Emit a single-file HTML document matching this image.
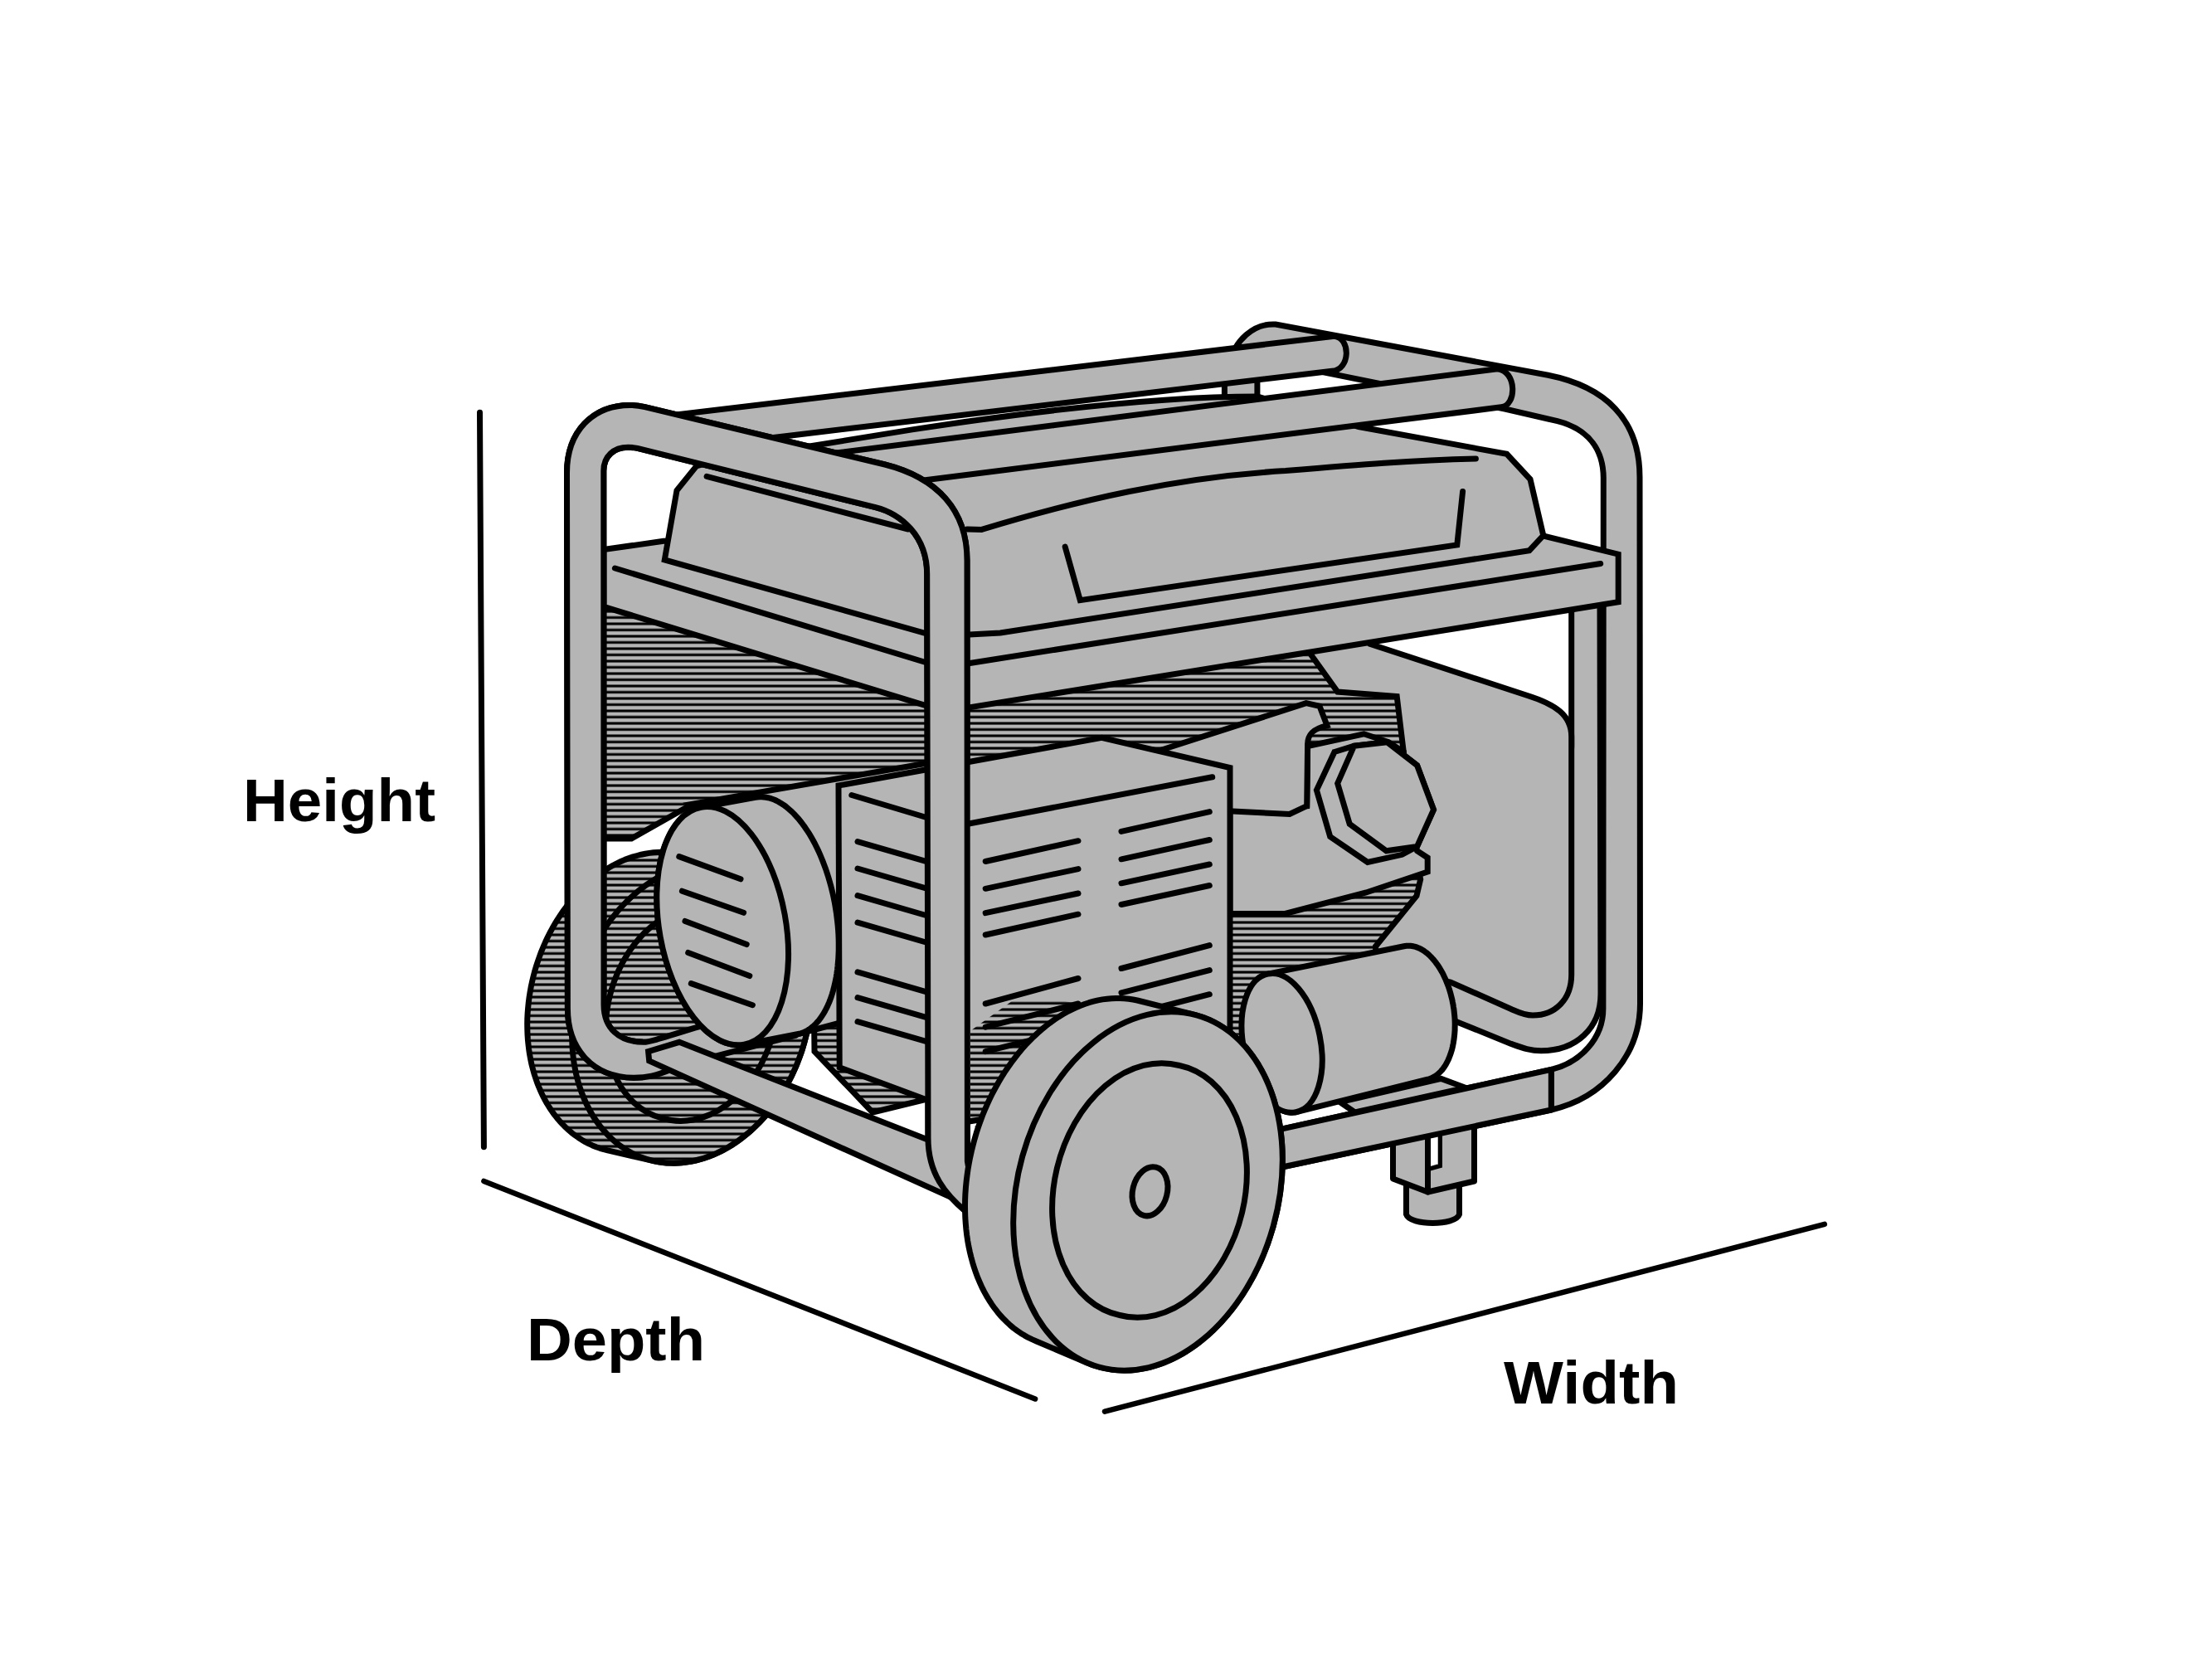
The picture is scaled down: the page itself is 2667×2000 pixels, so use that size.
<!DOCTYPE html>
<html lang="en">
<head>
<meta charset="utf-8">
<title>Generator dimensions</title>
<style>
html,body{margin:0;padding:0;background:#fff;}
body{width:2667px;height:2000px;overflow:hidden;font-family:"Liberation Sans",sans-serif;}
svg{display:block;}
</style>
</head>
<body>
<svg width="2667" height="2000" viewBox="0 0 2667 2000">
<defs>
<pattern id="hatch" x="0" y="0" width="40" height="7.5" patternUnits="userSpaceOnUse">
<rect x="0" y="0" width="40" height="7.5" fill="#b5b5b5"/>
<rect x="0" y="0.45" width="40" height="3.1" fill="#000"/>
</pattern>
<pattern id="hatchlines" x="0" y="0" width="40" height="7.5" patternUnits="userSpaceOnUse">
<rect x="0" y="0.45" width="40" height="3.1" fill="#000"/>
</pattern>
<clipPath id="hoopclip"><rect x="0" y="0" width="2667" height="1200"/><rect x="0" y="1200" width="775" height="800"/><rect x="1000" y="1200" width="1667" height="800"/></clipPath>
</defs>
<rect width="2667" height="2000" fill="#fff"/>
<polygon points="635.7,1234.5 635.8,1228.2 636.1,1221.9 636.6,1215.6 637.2,1209.3 638,1202.9 639,1196.6 640.1,1190.3 641.4,1184.1 642.9,1177.8 644.5,1171.6 646.3,1165.4 648.3,1159.3 650.4,1153.3 652.6,1147.3 655.1,1141.4 657.6,1135.5 660.3,1129.8 663.2,1124.2 666.2,1118.6 669.3,1113.2 672.6,1107.9 676,1102.7 679.5,1097.6 683.1,1092.7 686.9,1087.9 690.7,1083.2 694.7,1078.7 698.8,1074.4 702.9,1070.2 707.2,1066.2 711.5,1062.4 715.9,1058.8 720.4,1055.3 725,1052 729.6,1048.9 734.3,1046 739,1043.3 743.8,1040.8 748.6,1038.5 753.4,1036.4 758.3,1034.6 763.2,1032.9 768.2,1031.5 773.1,1030.2 778,1029.2 783,1028.4 787.9,1027.8 792.8,1027.5 797.7,1027.3 802.6,1027.4 807.4,1027.7 812.2,1028.2 817,1029 821.7,1029.9 879.2,1043 884,1044.1 888.7,1045.4 893.3,1047 897.9,1048.8 902.4,1050.7 906.8,1052.9 911.1,1055.3 915.3,1057.9 919.4,1060.7 923.4,1063.7 927.4,1066.9 931.2,1070.2 934.8,1073.8 938.4,1077.5 941.8,1081.4 945.1,1085.5 948.3,1089.7 951.3,1094.1 954.2,1098.7 956.9,1103.4 959.5,1108.2 962,1113.2 964.2,1118.4 966.4,1123.6 968.3,1129 970.1,1134.4 971.7,1140 973.2,1145.7 974.5,1151.5 975.6,1157.3 976.6,1163.3 977.3,1169.3 977.9,1175.4 978.4,1181.5 978.6,1187.7 978.7,1193.9 978.6,1200.1 978.3,1206.4 977.9,1212.7 977.2,1219 976.4,1225.3 975.5,1231.6 974.3,1237.9 973,1244.2 971.5,1250.5 969.9,1256.7 968,1262.8 966.1,1268.9 963.9,1275 961.6,1281 959.2,1286.9 956.5,1292.8 953.8,1298.5 950.9,1304.2 947.8,1309.7 944.7,1315.2 941.3,1320.5 937.9,1325.7 934.3,1330.8 930.6,1335.8 926.8,1340.6 922.9,1345.3 918.8,1349.8 914.7,1354.1 910.5,1358.3 906.1,1362.4 901.7,1366.2 897.2,1369.9 892.6,1373.4 888,1376.8 883.3,1379.9 878.5,1382.8 873.7,1385.6 868.8,1388.1 863.9,1390.4 858.9,1392.6 853.9,1394.5 848.9,1396.2 843.9,1397.7 838.9,1399 833.8,1400.1 828.8,1400.9 823.8,1401.6 818.7,1402 813.7,1402.2 808.7,1402.1 803.8,1401.9 798.9,1401.4 794,1400.7 789.2,1399.8 732.7,1386.9 728,1385.7 723.4,1384.3 718.9,1382.7 714.4,1380.9 710,1378.9 705.7,1376.6 701.5,1374.2 697.4,1371.5 693.4,1368.7 689.4,1365.7 685.6,1362.4 681.9,1359 678.3,1355.4 674.8,1351.6 671.5,1347.7 668.3,1343.6 665.2,1339.3 662.2,1334.8 659.4,1330.2 656.8,1325.5 654.2,1320.6 651.9,1315.5 649.7,1310.4 647.6,1305.1 645.7,1299.7 643.9,1294.2 642.4,1288.6 640.9,1282.8 639.7,1277 638.6,1271.2 637.7,1265.2 637,1259.1 636.4,1253.1 636,1246.9 635.8,1240.7" fill="url(#hatch)" stroke="#000" stroke-width="7" stroke-linejoin="round" stroke-linecap="round" />
<path d="M888.7,1045.4 A140.1 184.2 17.2 1 0 779.7,1397.4 A140.1 184.2 17.2 1 0 888.7,1045.4 Z" fill="url(#hatch)" stroke="#000" stroke-width="7"/>
<path d="M870.1,1096.1 A99 131 16 1 0 797.9,1347.9 A99 131 16 1 0 870.1,1096.1 Z" fill="url(#hatch)" stroke="#000" stroke-width="7"/>
<path d="M1482,440 C1488,410 1512,389.5 1538,391 L1866.5,452.3 C1935,466 1977,505 1977,575 L1977.5,1210 C1977.5,1272.4 1932.8,1323.8 1870.4,1338 L1500,1416.7 L1500,1371 L1870.4,1289.4 C1905.4,1281 1932.9,1252 1932.9,1216 L1933.3,576 C1933,545 1918,518 1877.8,507.7 L1814.5,493 L1560,441.6 Z" fill="#b5b5b5" stroke="#000" stroke-width="7" stroke-linejoin="miter" stroke-linecap="round" />
<line x1="1870.4" y1="1290" x2="1870.4" y2="1337.5" stroke="#000" stroke-width="7" stroke-linecap="round"/>
<polygon points="1476.4,450 1515.9,450 1515.9,490 1476.4,490" fill="#b5b5b5" stroke="#000" stroke-width="7" stroke-linejoin="miter" stroke-linecap="round" />
<path d="M815,500 L1609,405.2 C1629,408 1628,446 1606,447.3 L925,528.4 L925,536 L815,508 Z" fill="#b5b5b5" stroke="#000" stroke-width="7" stroke-linejoin="miter" stroke-linecap="round" />
<polygon points="727.4,720 1590,720 1625,828 1690,834 1698,905 1483,935 1011,955 832.5,970.7 761.3,1011 727.4,1011" fill="url(#hatch)" stroke="#000" stroke-width="7" stroke-linejoin="miter" stroke-linecap="round" />
<polygon points="1470,1080 1730,1030 1712.7,1079 1658.5,1141 1650,1165 1510,1250 1480,1246" fill="url(#hatch)" stroke="none" stroke-width="7" stroke-linejoin="miter" stroke-linecap="round" />
<polygon points="981.5,1225 982,1267.6 1052,1341 1118,1325 1118,1225" fill="url(#hatch)" stroke="#000" stroke-width="7" stroke-linejoin="miter" stroke-linecap="round" />
<path d="M1894.7,725 L1929,725 L1930,1198 C1930,1240 1900,1266.8 1858,1266.8 C1845,1266.8 1835,1263 1822,1258.4 L1756.8,1232 L1735,1222 L1735,1150 L1880,1150 L1894.7,900 Z" fill="#b5b5b5" stroke="#000" stroke-width="7" stroke-linejoin="miter" stroke-linecap="round" />
<path d="M1581,789.8 L1575,765 L1640,760 L1651.7,776.3 L1841.6,838.5 C1875,849 1894.7,862 1894.7,888 L1894.7,1175 C1894.7,1205 1875,1224 1848,1224 C1838,1224 1830,1220 1822,1216.5 L1748.9,1184 L1660,1165 L1658.5,1141 L1708,1080 L1712.7,1060 L1700,1000 L1692.3,906.5 L1684.2,839.6 L1612.7,834.1 Z" fill="#b5b5b5" stroke="#000" stroke-width="7" stroke-linejoin="miter" stroke-linecap="round" />
<polygon points="727.8,662.5 800,652.3 1862,646.3 1951.2,668.2 1951.2,725.8 1139.2,857.6 727.8,731.4" fill="#b5b5b5" stroke="#000" stroke-width="7" stroke-linejoin="miter" stroke-linecap="round" />
<line x1="741.4" y1="685" x2="1114.3" y2="798" stroke="#000" stroke-width="7" stroke-linecap="round"/>
<line x1="1166.2" y1="800" x2="1929.7" y2="679.5" stroke="#000" stroke-width="7" stroke-linecap="round"/>
<path d="M839.7,561.9 L816,591.3 L801.3,674.9 L1114.3,763 L1150,766 L1206,763 L1843.9,663.7 L1860.8,645.6 L1845,577.8 L1816.7,547.3 L1638.2,514.5 L1516,478 C1400,478 1250,495 1100,517.9 L976,538 L900,545 Z" fill="#b5b5b5" stroke="#000" stroke-width="7" stroke-linejoin="miter" stroke-linecap="round" />
<path d="M1166,638 L1183.6,638.4 C1300,603 1420,575 1550,567.6 C1640,560 1700,555 1779.4,552.9" fill="none" stroke="#000" stroke-width="7" stroke-linejoin="miter" stroke-linecap="round" />
<path d="M1284.2,659.2 L1302.3,723.6 L1756.8,656.9 L1763.6,592.5" fill="none" stroke="#000" stroke-width="7" stroke-linejoin="miter" stroke-linecap="round" />
<line x1="852.1" y1="574.3" x2="1095" y2="638" stroke="#000" stroke-width="7" stroke-linecap="round"/>
<path d="M1000,547 L1805.4,444.7 C1829,447 1829,489 1810,490.8 L1113.6,579 L1000,590 Z" fill="#b5b5b5" stroke="#000" stroke-width="7" stroke-linejoin="miter" stroke-linecap="round" />
<polygon points="1483,977 1575.7,971.6 1576.6,899.6 1644.4,884.8 1674.2,894.7 1692.3,906.5 1700,1000 1708.6,1025.8 1721.2,1034 1721.2,1051 1647.2,1076 1549.5,1101.4 1483,1101.5" fill="#b5b5b5" stroke="#000" stroke-width="7" stroke-linejoin="miter" stroke-linecap="round" />
<path d="M1400.6,904 L1574.8,847.7 L1591,851.3 L1600,874.8 C1585,878 1576.6,884 1576.6,897 L1575.7,971.6 L1554.9,981.5 L1486.2,977.9 L1470,977 L1400,950 Z" fill="#b5b5b5" stroke="#000" stroke-width="7" stroke-linejoin="miter" stroke-linecap="round" />
<polygon points="1609,906.5 1632.6,899.2 1672.4,894.7 1708.6,922.7 1728.5,976.1 1708.6,1020.4 1690.5,1030.3 1648.9,1039.4 1603.7,1008.6 1587.4,952.6" fill="#b5b5b5" stroke="#000" stroke-width="7" stroke-linejoin="miter" stroke-linecap="round" />
<polygon points="1632.6,899.2 1672.4,894.7 1708.6,922.7 1728.5,976.1 1708.6,1020.4 1671.5,1025.8 1627.2,993.3 1612.7,944.4" fill="#b5b5b5" stroke="#000" stroke-width="7" stroke-linejoin="miter" stroke-linecap="round" />
<path d="M960,1248 L865,1272.6 L810,1289 C790,1297 780,1299.3 764.7,1299.3 C715,1299 684.4,1265 684.4,1215.6 L683.5,570 C683.5,520 715,488.4 759.5,488.4 C766,488.4 771,489 777.5,490.7 L1066.9,560 C1130,576 1166,615 1166,675.5 L1166.4,1400 L1180,1480 L1165,1461 C1140,1440 1119,1415 1119,1372 L1117.7,692 C1117.7,645 1085,619 1055.6,611.6 L768.5,540.4 C764,539.3 761,539.3 757.2,539.3 C740,539.3 727.8,550 727.8,567.5 L728,1211 C728,1240 747,1256.3 776,1256.3 C782,1256.3 790,1254 837,1239.4 L960,1205.3 Z" fill="#b5b5b5" stroke="#000" stroke-width="7" stroke-linejoin="round" stroke-linecap="round" />
<polygon points="832.5,969.6 1118,920 1118,1228 1011,1233.5 985,1240.5 960,1247 880,1000" fill="#b5b5b5" stroke="#000" stroke-width="7" stroke-linejoin="miter" stroke-linecap="round" />
<polygon points="791.9,1080.1 792,1075.3 792.1,1070.5 792.4,1065.8 792.8,1061.1 793.3,1056.5 793.9,1052 794.5,1047.6 795.3,1043.2 796.1,1038.9 797.1,1034.7 798.1,1030.7 799.2,1026.7 800.4,1022.8 801.7,1019.1 803.1,1015.4 804.6,1011.9 806.1,1008.6 807.7,1005.3 809.4,1002.2 811.2,999.2 813.1,996.4 815,993.7 817,991.1 819,988.8 821.1,986.5 823.3,984.4 825.6,982.5 827.9,980.8 830.2,979.2 832.6,977.8 835,976.5 837.5,975.4 840.1,974.5 842.6,973.8 845.2,973.2 910.8,961.2 913.3,960.9 915.8,960.7 918.4,960.7 920.9,960.9 923.5,961.2 926.1,961.7 928.7,962.4 931.3,963.3 934,964.3 936.6,965.5 939.2,966.9 941.8,968.5 944.5,970.2 947.1,972 949.6,974.1 952.2,976.3 954.8,978.6 957.3,981.1 959.8,983.8 962.3,986.6 964.7,989.5 967.1,992.6 969.5,995.8 971.8,999.2 974.1,1002.6 976.4,1006.2 978.6,1010 980.7,1013.8 982.8,1017.7 984.8,1021.8 986.8,1025.9 988.7,1030.2 990.5,1034.5 992.3,1038.9 994,1043.4 995.7,1048 997.2,1052.6 998.7,1057.3 1000.1,1062.1 1001.5,1066.9 1002.7,1071.7 1003.9,1076.6 1005,1081.6 1006,1086.5 1006.9,1091.5 1007.7,1096.5 1008.5,1101.5 1009.1,1106.5 1009.7,1111.5 1010.2,1116.5 1010.6,1121.5 1010.9,1126.4 1011.1,1131.3 1011.2,1136.2 1011.2,1141.1 1011.2,1145.9 1011,1150.7 1010.8,1155.4 1010.4,1160 1010,1164.6 1009.5,1169.1 1008.9,1173.5 1008.2,1177.8 1007.4,1182.1 1006.5,1186.2 1005.5,1190.3 1004.5,1194.2 1003.4,1198 1002.2,1201.8 1000.9,1205.4 999.5,1208.8 998,1212.2 996.5,1215.4 994.9,1218.5 993.3,1221.4 991.5,1224.2 989.7,1226.9 987.8,1229.4 985.9,1231.7 983.9,1233.9 981.9,1235.9 979.7,1237.8 977.6,1239.5 975.4,1241.1 973.1,1242.5 970.8,1243.7 968.5,1244.7 966.1,1245.6 963.6,1246.3 961.2,1246.8 897.2,1259.2 894.5,1259.5 891.9,1259.8 889.2,1259.8 886.5,1259.7 883.8,1259.4 881,1258.9 878.3,1258.2 875.5,1257.4 872.7,1256.4 870,1255.2 867.2,1253.9 864.4,1252.3 861.7,1250.7 858.9,1248.8 856.2,1246.8 853.5,1244.7 850.8,1242.3 848.2,1239.9 845.5,1237.2 842.9,1234.5 840.3,1231.6 837.8,1228.5 835.3,1225.3 832.9,1222 830.5,1218.5 828.1,1215 825.8,1211.3 823.6,1207.4 821.4,1203.5 819.3,1199.5 817.2,1195.3 815.2,1191.1 813.3,1186.8 811.4,1182.4 809.6,1177.9 807.9,1173.3 806.3,1168.7 804.7,1164 803.3,1159.2 801.9,1154.4 800.6,1149.6 799.4,1144.7 798.2,1139.8 797.2,1134.8 796.2,1129.8 795.4,1124.8 794.6,1119.8 793.9,1114.8 793.3,1109.8 792.9,1104.8 792.5,1099.8 792.2,1094.8 792,1089.9 791.9,1085" fill="#b5b5b5" stroke="#000" stroke-width="7" stroke-linejoin="round" stroke-linecap="round" />
<path d="M845.2,973.2 A76.2 145.3 -10.3 1 0 897.2,1259.2 A76.2 145.3 -10.3 1 0 845.2,973.2 Z" fill="#b5b5b5" stroke="#000" stroke-width="7"/>
<line x1="818.8" y1="1032.6" x2="893" y2="1059.8" stroke="#000" stroke-width="7" stroke-linecap="round"/>
<line x1="822.4" y1="1074.2" x2="896.6" y2="1100.3" stroke="#000" stroke-width="7" stroke-linecap="round"/>
<line x1="826" y1="1110.4" x2="900.2" y2="1138.6" stroke="#000" stroke-width="7" stroke-linecap="round"/>
<line x1="829.7" y1="1148.4" x2="903.8" y2="1176.6" stroke="#000" stroke-width="7" stroke-linecap="round"/>
<line x1="833.3" y1="1185.6" x2="907.4" y2="1211.7" stroke="#000" stroke-width="7" stroke-linecap="round"/>
<polygon points="1011,947 1328.3,889.4 1483,925.5 1483,1300 1168,1352 1160,1335 1142,1335 1012.2,1286.8" fill="#b5b5b5" stroke="#000" stroke-width="7" stroke-linejoin="miter" stroke-linecap="round" />
<line x1="1026.8" y1="958.5" x2="1142" y2="993" stroke="#000" stroke-width="7" stroke-linecap="round"/>
<line x1="1142" y1="998" x2="1461.7" y2="936.8" stroke="#000" stroke-width="7" stroke-linecap="round"/>
<line x1="1034" y1="1014.6" x2="1125" y2="1040.9" stroke="#000" stroke-width="7" stroke-linecap="round"/>
<line x1="1034" y1="1047" x2="1125" y2="1073.3" stroke="#000" stroke-width="7" stroke-linecap="round"/>
<line x1="1034" y1="1079.7" x2="1125" y2="1106" stroke="#000" stroke-width="7" stroke-linecap="round"/>
<line x1="1034" y1="1112.2" x2="1125" y2="1138.5" stroke="#000" stroke-width="7" stroke-linecap="round"/>
<line x1="1034" y1="1171.9" x2="1125" y2="1198.2" stroke="#000" stroke-width="7" stroke-linecap="round"/>
<line x1="1034" y1="1202.6" x2="1125" y2="1228.9" stroke="#000" stroke-width="7" stroke-linecap="round"/>
<line x1="1034" y1="1231.6" x2="1125" y2="1257.9" stroke="#000" stroke-width="7" stroke-linecap="round"/>
<line x1="1188.2" y1="1038.5" x2="1300" y2="1013.7" stroke="#000" stroke-width="7" stroke-linecap="round"/>
<line x1="1188.2" y1="1071.3" x2="1300" y2="1047.6" stroke="#000" stroke-width="7" stroke-linecap="round"/>
<line x1="1188.2" y1="1100.7" x2="1300" y2="1077" stroke="#000" stroke-width="7" stroke-linecap="round"/>
<line x1="1188.2" y1="1127" x2="1300" y2="1102.2" stroke="#000" stroke-width="7" stroke-linecap="round"/>
<line x1="1188.2" y1="1210" x2="1300" y2="1179.5" stroke="#000" stroke-width="7" stroke-linecap="round"/>
<line x1="1188.2" y1="1238.2" x2="1300" y2="1210" stroke="#000" stroke-width="7" stroke-linecap="round"/>
<line x1="1188.2" y1="1267.6" x2="1300" y2="1240" stroke="#000" stroke-width="7" stroke-linecap="round"/>
<line x1="1352" y1="1002.4" x2="1458.3" y2="978.6" stroke="#000" stroke-width="7" stroke-linecap="round"/>
<line x1="1352" y1="1035.8" x2="1458.3" y2="1012.5" stroke="#000" stroke-width="7" stroke-linecap="round"/>
<line x1="1352" y1="1064.8" x2="1458.3" y2="1042" stroke="#000" stroke-width="7" stroke-linecap="round"/>
<line x1="1352" y1="1090.5" x2="1458.3" y2="1067.5" stroke="#000" stroke-width="7" stroke-linecap="round"/>
<line x1="1352" y1="1167.5" x2="1458.3" y2="1139.6" stroke="#000" stroke-width="7" stroke-linecap="round"/>
<line x1="1352" y1="1196.8" x2="1458.3" y2="1169.6" stroke="#000" stroke-width="7" stroke-linecap="round"/>
<line x1="1352" y1="1226" x2="1458.3" y2="1198.7" stroke="#000" stroke-width="7" stroke-linecap="round"/>
<polygon points="1222,1205.5 1280.8,1206.6 1330,1215 1200,1400 1170,1349 1170,1242.7" fill="url(#hatchlines)" stroke="none" stroke-width="7" stroke-linejoin="miter" stroke-linecap="round" />
<polygon points="1615.6,1328.6 1737.6,1300.4 1767,1311.3 1633.6,1341" fill="#b5b5b5" stroke="#000" stroke-width="7" stroke-linejoin="miter" stroke-linecap="round" />
<polygon points="1497.4,1237.5 1497.5,1234.7 1497.5,1231.9 1497.7,1229.1 1497.8,1226.4 1498.1,1223.7 1498.4,1221 1498.8,1218.4 1499.2,1215.9 1499.6,1213.3 1500.2,1210.9 1500.8,1208.5 1501.4,1206.1 1502.1,1203.9 1502.8,1201.6 1503.6,1199.5 1504.5,1197.4 1505.4,1195.4 1506.3,1193.5 1507.3,1191.6 1508.4,1189.9 1509.5,1188.2 1510.6,1186.6 1511.8,1185 1513,1183.6 1514.3,1182.3 1515.6,1181 1516.9,1179.9 1518.3,1178.8 1519.7,1177.8 1521.1,1177 1522.5,1176.2 1524,1175.5 1525.6,1174.9 1527.1,1174.5 1528.7,1174.1 1692.7,1140.8 1694.3,1140.5 1695.8,1140.3 1697.5,1140.2 1699.1,1140.2 1700.7,1140.3 1702.3,1140.5 1704,1140.8 1705.6,1141.2 1707.3,1141.6 1708.9,1142.2 1710.6,1142.9 1712.2,1143.7 1713.8,1144.5 1715.5,1145.5 1717.1,1146.5 1718.7,1147.7 1720.3,1148.9 1721.8,1150.2 1723.4,1151.6 1724.9,1153.1 1726.4,1154.7 1727.9,1156.4 1729.4,1158.1 1730.8,1159.9 1732.2,1161.8 1733.6,1163.7 1735,1165.8 1736.3,1167.9 1737.5,1170 1738.8,1172.2 1740,1174.5 1741.1,1176.9 1742.2,1179.2 1743.3,1181.7 1744.3,1184.2 1745.3,1186.7 1746.3,1189.3 1747.2,1191.9 1748,1194.5 1748.8,1197.2 1749.5,1199.9 1750.2,1202.7 1750.9,1205.4 1751.4,1208.2 1752,1211 1752.4,1213.8 1752.9,1216.6 1753.2,1219.4 1753.5,1222.3 1753.8,1225.1 1754,1227.9 1754.1,1230.7 1754.2,1233.5 1754.2,1236.3 1754.1,1239 1754.1,1241.8 1753.9,1244.5 1753.7,1247.2 1753.4,1249.8 1753.1,1252.4 1752.7,1255 1752.3,1257.6 1751.8,1260 1751.3,1262.5 1750.7,1264.9 1750,1267.2 1749.3,1269.5 1748.5,1271.7 1747.7,1273.9 1746.9,1276 1746,1278 1745,1280 1744,1281.9 1743,1283.7 1741.9,1285.5 1740.8,1287.1 1739.6,1288.7 1738.4,1290.2 1737.1,1291.6 1735.8,1292.9 1734.5,1294.2 1733.2,1295.3 1731.8,1296.4 1730.4,1297.4 1728.9,1298.2 1727.4,1299 1725.9,1299.7 1724.4,1300.3 1722.9,1300.8 1721.3,1301.2 1564.1,1340.3 1562.5,1340.7 1561,1341 1559.4,1341.1 1557.7,1341.2 1556.1,1341.2 1554.5,1341 1552.8,1340.8 1551.1,1340.4 1549.5,1340 1547.8,1339.5 1546.1,1338.8 1544.4,1338.1 1542.7,1337.2 1541.1,1336.3 1539.4,1335.2 1537.7,1334.1 1536.1,1332.9 1534.4,1331.6 1532.8,1330.2 1531.2,1328.7 1529.6,1327.1 1528,1325.4 1526.5,1323.7 1524.9,1321.9 1523.4,1319.9 1522,1318 1520.5,1315.9 1519.1,1313.8 1517.7,1311.6 1516.4,1309.3 1515,1307 1513.8,1304.6 1512.5,1302.2 1511.3,1299.7 1510.2,1297.1 1509,1294.5 1508,1291.9 1506.9,1289.2 1506,1286.4 1505,1283.7 1504.2,1280.9 1503.3,1278.1 1502.5,1275.2 1501.8,1272.4 1501.1,1269.5 1500.5,1266.6 1500,1263.7 1499.5,1260.7 1499,1257.8 1498.6,1254.9 1498.3,1252 1498,1249.1 1497.8,1246.1 1497.6,1243.3 1497.5,1240.4" fill="#b5b5b5" stroke="#000" stroke-width="7" stroke-linejoin="round" stroke-linecap="round" />
<path d="M1528.7,1174.1 A46 85 -11.5 1 0 1562.5,1340.7 A46 85 -11.5 1 0 1528.7,1174.1 Z" fill="#b5b5b5" stroke="#000" stroke-width="7"/>
<path d="M1695.5,1420 L1695.5,1464 C1700,1478 1755,1478 1759.5,1464 L1759.5,1420 Z" fill="#b5b5b5" stroke="#000" stroke-width="7" stroke-linejoin="miter" stroke-linecap="round" />
<polygon points="1679.5,1360 1721.5,1360 1721.5,1437 1679.5,1421" fill="#b5b5b5" stroke="#000" stroke-width="7" stroke-linejoin="round" stroke-linecap="round" />
<polygon points="1721.5,1360 1777.5,1350 1777.5,1424 1721.5,1437" fill="#b5b5b5" stroke="#000" stroke-width="7" stroke-linejoin="round" stroke-linecap="round" />
<path d="M1725,1371 L1733,1369 L1733,1403 L1725,1405.5 Z" fill="#fff" stroke="none" stroke-width="7" stroke-linejoin="miter" stroke-linecap="round" />
<path d="M1736.5,1366 L1736.5,1405.5 L1724,1409" fill="none" stroke="#000" stroke-width="5" stroke-linejoin="miter" stroke-linecap="round" />
<path d="M1870.4,1338 L1500,1416.7 L1500,1371 L1870.4,1289.4 Z" fill="#b5b5b5" stroke="#000" stroke-width="7" stroke-linejoin="round" stroke-linecap="round" />
<line x1="1870.4" y1="1290" x2="1870.4" y2="1337.5" stroke="#000" stroke-width="7" stroke-linecap="round"/>
<polygon points="781.6,1267.6 819,1256.3 1125,1376.5 1150,1445 782.7,1279" fill="#b5b5b5" stroke="#000" stroke-width="7" stroke-linejoin="miter" stroke-linecap="round" />
<path d="M960,1248 L865,1272.6 L810,1289 C790,1297 780,1299.3 764.7,1299.3 C715,1299 684.4,1265 684.4,1215.6 L683.5,570 C683.5,520 715,488.4 759.5,488.4 C766,488.4 771,489 777.5,490.7 L1066.9,560 C1130,576 1166,615 1166,675.5 L1166.4,1400 L1180,1480 L1165,1461 C1140,1440 1119,1415 1119,1372 L1117.7,692 C1117.7,645 1085,619 1055.6,611.6 L768.5,540.4 C764,539.3 761,539.3 757.2,539.3 C740,539.3 727.8,550 727.8,567.5 L728,1211 C728,1240 747,1256.3 776,1256.3 C782,1256.3 790,1254 837,1239.4 L960,1205.3 Z" fill="#b5b5b5" stroke="#000" stroke-width="7" stroke-linejoin="round" stroke-linecap="round" clip-path="url(#hoopclip)"/>
<polygon points="1163.5,1453.7 1163.6,1446.5 1163.9,1439.2 1164.4,1431.9 1165.1,1424.5 1166,1417.2 1167,1409.9 1168.3,1402.5 1169.7,1395.2 1171.3,1387.9 1173.1,1380.6 1175,1373.4 1177.1,1366.2 1179.4,1359.1 1181.9,1352 1184.5,1345 1187.3,1338.2 1190.3,1331.3 1193.4,1324.6 1196.6,1318 1200.1,1311.6 1203.6,1305.2 1207.3,1299 1211.1,1292.9 1215.1,1287 1219.2,1281.2 1223.4,1275.6 1227.7,1270.1 1232.1,1264.8 1236.6,1259.7 1241.3,1254.8 1246,1250.1 1250.8,1245.6 1255.7,1241.3 1260.6,1237.2 1265.7,1233.3 1270.8,1229.6 1275.9,1226.2 1281.1,1223 1286.4,1220 1291.7,1217.3 1297,1214.8 1302.4,1212.5 1307.7,1210.5 1313.1,1208.7 1318.5,1207.2 1323.9,1205.9 1329.2,1204.9 1334.6,1204.2 1340,1203.7 1345.3,1203.4 1350.5,1203.4 1355.8,1203.7 1361,1204.2 1366.1,1205 1371.2,1206 1437.5,1222.7 1442.8,1224 1448,1225.6 1453.2,1227.4 1458.3,1229.5 1463.3,1231.9 1468.2,1234.5 1473,1237.4 1477.6,1240.4 1482.2,1243.8 1486.7,1247.3 1491,1251.1 1495.2,1255.2 1499.2,1259.4 1503.2,1263.8 1506.9,1268.5 1510.6,1273.4 1514,1278.4 1517.3,1283.7 1520.5,1289.2 1523.5,1294.8 1526.3,1300.6 1528.9,1306.5 1531.4,1312.6 1533.7,1318.9 1535.8,1325.3 1537.7,1331.9 1539.4,1338.5 1541,1345.3 1542.3,1352.2 1543.5,1359.2 1544.4,1366.3 1545.2,1373.5 1545.8,1380.8 1546.1,1388.1 1546.3,1395.5 1546.3,1402.9 1546.1,1410.4 1545.6,1417.9 1545,1425.4 1544.2,1433 1543.2,1440.5 1542,1448 1540.6,1455.6 1539,1463.1 1537.2,1470.5 1535.3,1478 1533.1,1485.3 1530.8,1492.6 1528.3,1499.9 1525.6,1507.1 1522.8,1514.1 1519.8,1521.1 1516.6,1528 1513.2,1534.8 1509.7,1541.4 1506.1,1547.9 1502.2,1554.3 1498.3,1560.6 1494.2,1566.6 1490,1572.6 1485.6,1578.3 1481.1,1583.9 1476.5,1589.3 1471.8,1594.6 1467,1599.6 1462.1,1604.4 1457.1,1609 1452,1613.4 1446.8,1617.6 1441.5,1621.6 1436.2,1625.4 1430.8,1628.9 1425.4,1632.2 1419.9,1635.2 1414.3,1638 1408.7,1640.6 1403.1,1642.9 1397.5,1644.9 1391.8,1646.7 1386.2,1648.3 1380.5,1649.6 1374.8,1650.6 1369.2,1651.4 1363.6,1651.9 1357.9,1652.1 1352.4,1652.1 1346.8,1651.8 1341.3,1651.2 1335.9,1650.4 1330.5,1649.3 1325.2,1648 1320,1646.4 1314.8,1644.6 1309.7,1642.5 1249.6,1617 1244.8,1614.9 1240.1,1612.7 1235.5,1610.1 1231,1607.4 1226.6,1604.4 1222.3,1601.2 1218.1,1597.7 1214.1,1594 1210.1,1590.1 1206.3,1586 1202.7,1581.7 1199.2,1577.2 1195.8,1572.4 1192.6,1567.5 1189.5,1562.4 1186.6,1557.1 1183.8,1551.6 1181.3,1546 1178.8,1540.2 1176.6,1534.3 1174.5,1528.2 1172.6,1521.9 1170.9,1515.6 1169.3,1509.1 1167.9,1502.5 1166.7,1495.8 1165.7,1489 1164.9,1482.1 1164.3,1475.1 1163.8,1468 1163.6,1460.9" fill="#b5b5b5" stroke="#000" stroke-width="7" stroke-linejoin="round" stroke-linecap="round" />
<path d="M1442.8,1224 A157 220 15.5 1 0 1325.2,1648 A157 220 15.5 1 0 1442.8,1224 Z" fill="#b5b5b5" stroke="#000" stroke-width="7"/>
<path d="M1422.1,1284.5 A112.5 154.8 13.5 1 0 1349.9,1585.5 A112.5 154.8 13.5 1 0 1422.1,1284.5 Z" fill="#b5b5b5" stroke="#000" stroke-width="7"/>
<path d="M1393.8,1407.2 A20.8 30 14 1 0 1379.2,1465.4 A20.8 30 14 1 0 1393.8,1407.2 Z" fill="#b5b5b5" stroke="#000" stroke-width="7"/>
<line x1="578.5" y1="497.3" x2="583.4" y2="1382.8" stroke="#000" stroke-width="7" stroke-linecap="round"/>
<line x1="583.4" y1="1423.9" x2="1248.1" y2="1686.5" stroke="#000" stroke-width="6.5" stroke-linecap="round"/>
<line x1="1332" y1="1701.7" x2="2199.8" y2="1475.9" stroke="#000" stroke-width="6.5" stroke-linecap="round"/>
<text x="293" y="989.8" font-family="Liberation Sans, sans-serif" font-weight="700" font-size="73" textLength="232" lengthAdjust="spacingAndGlyphs" fill="#000">Height</text>
<text x="635" y="1639.5" font-family="Liberation Sans, sans-serif" font-weight="700" font-size="73" textLength="215" lengthAdjust="spacingAndGlyphs" fill="#000">Depth</text>
<text x="1813" y="1691.8" font-family="Liberation Sans, sans-serif" font-weight="700" font-size="73" textLength="211" lengthAdjust="spacingAndGlyphs" fill="#000">Width</text>
</svg>
</body>
</html>
